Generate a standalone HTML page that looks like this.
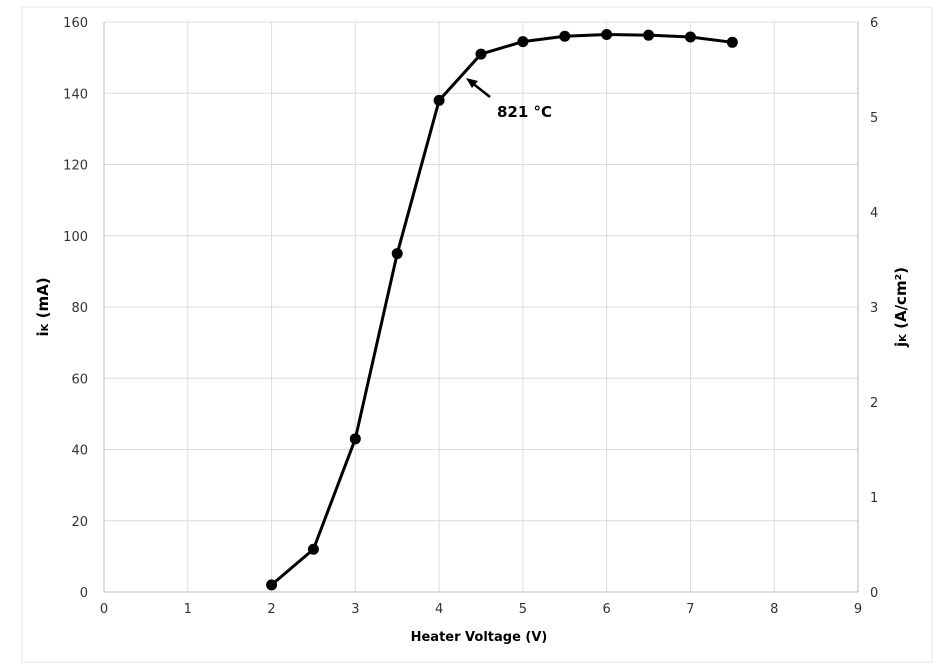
<!DOCTYPE html>
<html><head><meta charset="utf-8"><style>
html,body{margin:0;padding:0;background:#fff;}
svg{display:block;font-family:"DejaVu Sans","Liberation Sans",sans-serif;}
</style></head><body>
<svg id="chart" width="937" height="670" xmlns="http://www.w3.org/2000/svg">
<rect x="22" y="7" width="910" height="655" fill="#fff" stroke="#e6e6e6"/>
<g id="grid"></g><g id="axes"></g><g id="series"></g>
<g>
<line x1="490" y1="97" x2="471" y2="82" stroke="#000" stroke-width="2.5"/>
<polygon points="466,78 478,81 472,88" fill="#000"/>
<text x="497" y="117" font-size="15" font-weight="bold">821 °C</text>
</g>
<text x="479" y="641" font-size="13" font-weight="bold" text-anchor="middle">Heater Voltage (V)</text>
<text transform="translate(48,307) rotate(-90)" font-size="15" font-weight="bold" text-anchor="middle">i<tspan font-size="10">K</tspan> (mA)</text>
<text transform="translate(906,307) rotate(-90)" font-size="15" font-weight="bold" text-anchor="middle">j<tspan font-size="10">K</tspan> (A/cm²)</text>
</svg>
<script>
const xVals=[2,2.5,3,3.5,4,4.5,5,5.5,6,6.5,7,7.5];
const yVals=[2,12,43,95,138,151,154.5,156,156.5,156.3,155.8,154.3];
const xTicks=[0,1,2,3,4,5,6,7,8,9];
const yTicks=[0,20,40,60,80,100,120,140,160];
const y2Ticks=[0,1,2,3,4,5,6];
const L=104,R=858,T=22,B=592;
const xs=v=>L+(v-0)/9*(R-L);
const ys=v=>B-v/160*(B-T);
const ys2=v=>B-v/6*(B-T);
const ns="http://www.w3.org/2000/svg";
function mk(p,t,a){const e=document.createElementNS(ns,t);for(const k in a)e.setAttribute(k,a[k]);p.appendChild(e);return e;}
const g=document.getElementById('grid'),ax=document.getElementById('axes'),s=document.getElementById('series');
xTicks.forEach(v=>{const l=mk(g,'line',{x1:xs(v),x2:xs(v),y1:T,y2:B,stroke:'#dcdcdc'});


const t=mk(ax,'text',{x:xs(v),y:B+21,'font-size':13,'text-anchor':'middle',fill:'#333'});t.textContent=v;

});
yTicks.forEach(v=>{const l=mk(g,'line',{x1:L,x2:R,y1:ys(v),y2:ys(v),stroke:'#dcdcdc'});


const t=mk(ax,'text',{x:L-16,y:ys(v)+5,'font-size':13,'text-anchor':'end',fill:'#333'});t.textContent=v;

});
y2Ticks.forEach(v=>{const t=mk(ax,'text',{x:R+12,y:ys2(v)+5,'font-size':13,'text-anchor':'start',fill:'#333'});t.textContent=v;

});
mk(ax,'line',{x1:L,x2:L,y1:T,y2:B,stroke:'#bbb'});
mk(ax,'line',{x1:R,x2:R,y1:T,y2:B,stroke:'#bbb'});
mk(ax,'line',{x1:L,x2:R,y1:B,y2:B,stroke:'#bbb'});
const pts=xVals.map((x,i)=>xs(x)+','+ys(yVals[i])).join(' ');
const pl=mk(s,'polyline',{points:pts,fill:'none',stroke:'#000','stroke-width':3,'stroke-linejoin':'round'});


xVals.forEach((x,i)=>{const c=mk(s,'circle',{cx:xs(x),cy:ys(yVals[i]),r:5.5,fill:'#000'});

});
</script>
</body></html>
